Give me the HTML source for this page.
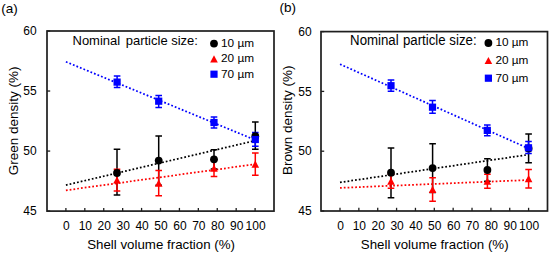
<!DOCTYPE html>
<html><head><meta charset="utf-8"><style>
html,body{margin:0;padding:0;background:#fff;}
svg{display:block;}
text{font-family:"Liberation Sans", sans-serif;fill:#000;}
</style></head><body>
<svg width="550" height="254" viewBox="0 0 550 254">
<rect width="550" height="254" fill="#fff"/>
<line x1="65.9" y1="61.8" x2="255.3" y2="140.0" stroke="#00f" stroke-width="1.75" stroke-dasharray="1.75 2.05"/>
<line x1="65.9" y1="185.1" x2="255.3" y2="140.6" stroke="#000" stroke-width="1.75" stroke-dasharray="1.75 2.05"/>
<line x1="65.9" y1="190.3" x2="255.3" y2="164.2" stroke="#f00" stroke-width="1.75" stroke-dasharray="1.75 2.05"/>
<line x1="65.90" y1="211.1" x2="65.90" y2="207.9" stroke="#1e1e1e" stroke-width="1.3"/>
<text x="66.40" y="230.1" text-anchor="middle" font-size="12">0</text>
<line x1="84.82" y1="211.1" x2="84.82" y2="207.9" stroke="#1e1e1e" stroke-width="1.3"/>
<text x="85.32" y="230.1" text-anchor="middle" font-size="12">10</text>
<line x1="103.74" y1="211.1" x2="103.74" y2="207.9" stroke="#1e1e1e" stroke-width="1.3"/>
<text x="104.24" y="230.1" text-anchor="middle" font-size="12">20</text>
<line x1="122.66" y1="211.1" x2="122.66" y2="207.9" stroke="#1e1e1e" stroke-width="1.3"/>
<text x="123.16" y="230.1" text-anchor="middle" font-size="12">30</text>
<line x1="141.58" y1="211.1" x2="141.58" y2="207.9" stroke="#1e1e1e" stroke-width="1.3"/>
<text x="142.08" y="230.1" text-anchor="middle" font-size="12">40</text>
<line x1="160.50" y1="211.1" x2="160.50" y2="207.9" stroke="#1e1e1e" stroke-width="1.3"/>
<text x="161.00" y="230.1" text-anchor="middle" font-size="12">50</text>
<line x1="179.42" y1="211.1" x2="179.42" y2="207.9" stroke="#1e1e1e" stroke-width="1.3"/>
<text x="179.92" y="230.1" text-anchor="middle" font-size="12">60</text>
<line x1="198.34" y1="211.1" x2="198.34" y2="207.9" stroke="#1e1e1e" stroke-width="1.3"/>
<text x="198.84" y="230.1" text-anchor="middle" font-size="12">70</text>
<line x1="217.26" y1="211.1" x2="217.26" y2="207.9" stroke="#1e1e1e" stroke-width="1.3"/>
<text x="217.76" y="230.1" text-anchor="middle" font-size="12">80</text>
<line x1="236.18" y1="211.1" x2="236.18" y2="207.9" stroke="#1e1e1e" stroke-width="1.3"/>
<text x="236.68" y="230.1" text-anchor="middle" font-size="12">90</text>
<line x1="255.10" y1="211.1" x2="255.10" y2="207.9" stroke="#1e1e1e" stroke-width="1.3"/>
<text x="255.60" y="230.1" text-anchor="middle" font-size="12">100</text>
<line x1="47" y1="31.00" x2="50.2" y2="31.00" stroke="#1e1e1e" stroke-width="1.3"/>
<text x="36.6" y="35.10" text-anchor="end" font-size="12">60</text>
<line x1="47" y1="91.03" x2="50.2" y2="91.03" stroke="#1e1e1e" stroke-width="1.3"/>
<text x="36.6" y="95.13" text-anchor="end" font-size="12">55</text>
<line x1="47" y1="151.07" x2="50.2" y2="151.07" stroke="#1e1e1e" stroke-width="1.3"/>
<text x="36.6" y="155.17" text-anchor="end" font-size="12">50</text>
<line x1="47" y1="211.10" x2="50.2" y2="211.10" stroke="#1e1e1e" stroke-width="1.3"/>
<text x="36.6" y="215.20" text-anchor="end" font-size="12">45</text>
<rect x="47" y="31.0" width="227" height="180.1" fill="none" stroke="#1e1e1e" stroke-width="1.7"/>
<path d="M117 149.3V195.1M113.7 149.3H120.3M113.7 195.1H120.3" stroke="#000" stroke-width="1.5" fill="none"/>
<path d="M158.7 136V185.2M155.39999999999998 136H162.0M155.39999999999998 185.2H162.0" stroke="#000" stroke-width="1.5" fill="none"/>
<path d="M214 149.7V169M210.7 149.7H217.3M210.7 169H217.3" stroke="#000" stroke-width="1.5" fill="none"/>
<path d="M255.3 122.1V149.3M252.0 122.1H258.6M252.0 149.3H258.6" stroke="#000" stroke-width="1.5" fill="none"/>
<path d="M117 169.2V191.1M113.7 169.2H120.3M113.7 191.1H120.3" stroke="#f00" stroke-width="1.5" fill="none"/>
<path d="M158.7 170.4V195.8M155.39999999999998 170.4H162.0M155.39999999999998 195.8H162.0" stroke="#f00" stroke-width="1.5" fill="none"/>
<path d="M214 160.1V176.5M210.7 160.1H217.3M210.7 176.5H217.3" stroke="#f00" stroke-width="1.5" fill="none"/>
<path d="M255.3 153V175.3M252.0 153H258.6M252.0 175.3H258.6" stroke="#f00" stroke-width="1.5" fill="none"/>
<path d="M117.1 76V87.5M113.8 76H120.39999999999999M113.8 87.5H120.39999999999999" stroke="#00f" stroke-width="1.5" fill="none"/>
<path d="M158.7 95.5V107.6M155.39999999999998 95.5H162.0M155.39999999999998 107.6H162.0" stroke="#00f" stroke-width="1.5" fill="none"/>
<path d="M214 117V128M210.7 117H217.3M210.7 128H217.3" stroke="#00f" stroke-width="1.5" fill="none"/>
<path d="M255.3 132.6V146.2M252.0 132.6H258.6M252.0 146.2H258.6" stroke="#00f" stroke-width="1.5" fill="none"/>
<circle cx="117" cy="173" r="3.9" fill="#000"/>
<circle cx="158.7" cy="160.6" r="3.9" fill="#000"/>
<circle cx="214" cy="159.3" r="3.9" fill="#000"/>
<circle cx="255.3" cy="136.2" r="3.9" fill="#000"/>
<polygon points="117,176.4 120.8,183.6 113.2,183.6" fill="#f00"/>
<polygon points="158.7,179.5 162.5,186.7 154.89999999999998,186.7" fill="#f00"/>
<polygon points="214,164.60000000000002 217.8,171.8 210.2,171.8" fill="#f00"/>
<polygon points="255.3,160.60000000000002 259.1,167.8 251.5,167.8" fill="#f00"/>
<rect x="113.5" y="78.5" width="7.2" height="7.2" fill="#00f"/>
<rect x="155.1" y="97.60000000000001" width="7.2" height="7.2" fill="#00f"/>
<rect x="210.4" y="118.9" width="7.2" height="7.2" fill="#00f"/>
<rect x="251.70000000000002" y="135.9" width="7.2" height="7.2" fill="#00f"/>
<text x="0" y="0" transform="translate(72.5,44.5) scale(1,1.05)" font-size="13">Nominal<tspan dx="2.0"> particle size:</tspan></text>
<circle cx="214" cy="43.6" r="3.9" fill="#000"/>
<text x="221" y="47.0" font-size="11.8">10 µm</text>
<polygon points="214,55.2 217.8,62.400000000000006 210.2,62.400000000000006" fill="#f00"/>
<text x="221" y="62.300000000000004" font-size="11.8">20 µm</text>
<rect x="210.4" y="70.60000000000001" width="7.2" height="7.2" fill="#00f"/>
<text x="221" y="77.60000000000001" font-size="11.8">70 µm</text>
<text x="0" y="0" transform="translate(161.1,248.6)" text-anchor="middle" font-size="13.3">Shell volume fraction (%)</text>
<text x="0" y="0" transform="translate(17.5,120.8) rotate(-90)" text-anchor="middle" font-size="13.5">Green density (%)</text>
<text x="1.3" y="12.8" font-size="13.5">(a)</text>
<line x1="340" y1="64.2" x2="528.6" y2="148.5" stroke="#00f" stroke-width="1.75" stroke-dasharray="1.75 2.05"/>
<line x1="340" y1="182.4" x2="528.6" y2="154.6" stroke="#000" stroke-width="1.75" stroke-dasharray="1.75 2.05"/>
<line x1="340" y1="187.9" x2="528.6" y2="180" stroke="#f00" stroke-width="1.75" stroke-dasharray="1.75 2.05"/>
<line x1="340.00" y1="211.0" x2="340.00" y2="207.8" stroke="#1e1e1e" stroke-width="1.3"/>
<text x="340.50" y="230.1" text-anchor="middle" font-size="12">0</text>
<line x1="358.86" y1="211.0" x2="358.86" y2="207.8" stroke="#1e1e1e" stroke-width="1.3"/>
<text x="359.36" y="230.1" text-anchor="middle" font-size="12">10</text>
<line x1="377.72" y1="211.0" x2="377.72" y2="207.8" stroke="#1e1e1e" stroke-width="1.3"/>
<text x="378.22" y="230.1" text-anchor="middle" font-size="12">20</text>
<line x1="396.58" y1="211.0" x2="396.58" y2="207.8" stroke="#1e1e1e" stroke-width="1.3"/>
<text x="397.08" y="230.1" text-anchor="middle" font-size="12">30</text>
<line x1="415.44" y1="211.0" x2="415.44" y2="207.8" stroke="#1e1e1e" stroke-width="1.3"/>
<text x="415.94" y="230.1" text-anchor="middle" font-size="12">40</text>
<line x1="434.30" y1="211.0" x2="434.30" y2="207.8" stroke="#1e1e1e" stroke-width="1.3"/>
<text x="434.80" y="230.1" text-anchor="middle" font-size="12">50</text>
<line x1="453.16" y1="211.0" x2="453.16" y2="207.8" stroke="#1e1e1e" stroke-width="1.3"/>
<text x="453.66" y="230.1" text-anchor="middle" font-size="12">60</text>
<line x1="472.02" y1="211.0" x2="472.02" y2="207.8" stroke="#1e1e1e" stroke-width="1.3"/>
<text x="472.52" y="230.1" text-anchor="middle" font-size="12">70</text>
<line x1="490.88" y1="211.0" x2="490.88" y2="207.8" stroke="#1e1e1e" stroke-width="1.3"/>
<text x="491.38" y="230.1" text-anchor="middle" font-size="12">80</text>
<line x1="509.74" y1="211.0" x2="509.74" y2="207.8" stroke="#1e1e1e" stroke-width="1.3"/>
<text x="510.24" y="230.1" text-anchor="middle" font-size="12">90</text>
<line x1="528.60" y1="211.0" x2="528.60" y2="207.8" stroke="#1e1e1e" stroke-width="1.3"/>
<text x="529.10" y="230.1" text-anchor="middle" font-size="12">100</text>
<line x1="321" y1="31.60" x2="324.2" y2="31.60" stroke="#1e1e1e" stroke-width="1.3"/>
<text x="311.6" y="35.70" text-anchor="end" font-size="12">60</text>
<line x1="321" y1="91.40" x2="324.2" y2="91.40" stroke="#1e1e1e" stroke-width="1.3"/>
<text x="311.6" y="95.50" text-anchor="end" font-size="12">55</text>
<line x1="321" y1="151.20" x2="324.2" y2="151.20" stroke="#1e1e1e" stroke-width="1.3"/>
<text x="311.6" y="155.30" text-anchor="end" font-size="12">50</text>
<line x1="321" y1="211.00" x2="324.2" y2="211.00" stroke="#1e1e1e" stroke-width="1.3"/>
<text x="311.6" y="215.10" text-anchor="end" font-size="12">45</text>
<rect x="321" y="31.6" width="226.5" height="179.4" fill="none" stroke="#1e1e1e" stroke-width="1.7"/>
<path d="M391 148.1V197.7M387.7 148.1H394.3M387.7 197.7H394.3" stroke="#000" stroke-width="1.5" fill="none"/>
<path d="M432.6 143.7V192.5M429.3 143.7H435.90000000000003M429.3 192.5H435.90000000000003" stroke="#000" stroke-width="1.5" fill="none"/>
<path d="M487.4 158.7V181.3M484.09999999999997 158.7H490.7M484.09999999999997 181.3H490.7" stroke="#000" stroke-width="1.5" fill="none"/>
<path d="M528.6 134V162.8M525.3000000000001 134H531.9M525.3000000000001 162.8H531.9" stroke="#000" stroke-width="1.5" fill="none"/>
<path d="M391 174.2V188.2M387.7 174.2H394.3M387.7 188.2H394.3" stroke="#f00" stroke-width="1.5" fill="none"/>
<path d="M432.6 177.8V201.2M429.3 177.8H435.90000000000003M429.3 201.2H435.90000000000003" stroke="#f00" stroke-width="1.5" fill="none"/>
<path d="M487.4 174.3V188.3M484.09999999999997 174.3H490.7M484.09999999999997 188.3H490.7" stroke="#f00" stroke-width="1.5" fill="none"/>
<path d="M528.6 169.4V187.9M525.3000000000001 169.4H531.9M525.3000000000001 187.9H531.9" stroke="#f00" stroke-width="1.5" fill="none"/>
<path d="M391 79.9V91.3M387.7 79.9H394.3M387.7 91.3H394.3" stroke="#00f" stroke-width="1.5" fill="none"/>
<path d="M432.5 100.5V113.2M429.2 100.5H435.8M429.2 113.2H435.8" stroke="#00f" stroke-width="1.5" fill="none"/>
<path d="M487.3 124.9V135.7M484.0 124.9H490.6M484.0 135.7H490.6" stroke="#00f" stroke-width="1.5" fill="none"/>
<path d="M528.5 141.6V153.6M525.2 141.6H531.8M525.2 153.6H531.8" stroke="#00f" stroke-width="1.5" fill="none"/>
<circle cx="391" cy="172.7" r="3.9" fill="#000"/>
<circle cx="432.6" cy="168.1" r="3.9" fill="#000"/>
<circle cx="487.4" cy="170" r="3.9" fill="#000"/>
<circle cx="528.6" cy="148.4" r="3.9" fill="#000"/>
<polygon points="391,177.5 394.8,184.7 387.2,184.7" fill="#f00"/>
<polygon points="432.6,185.8 436.40000000000003,193.0 428.8,193.0" fill="#f00"/>
<polygon points="487.4,177.60000000000002 491.2,184.8 483.59999999999997,184.8" fill="#f00"/>
<polygon points="528.6,175.0 532.4,182.2 524.8000000000001,182.2" fill="#f00"/>
<rect x="387.4" y="82.10000000000001" width="7.2" height="7.2" fill="#00f"/>
<rect x="428.9" y="103.60000000000001" width="7.2" height="7.2" fill="#00f"/>
<rect x="483.7" y="126.80000000000001" width="7.2" height="7.2" fill="#00f"/>
<rect x="524.9" y="144.20000000000002" width="7.2" height="7.2" fill="#00f"/>
<text x="0" y="0" transform="translate(350.1,44.5) scale(1,1.05)" font-size="13.25">Nominal<tspan dx="0.6"> particle size:</tspan></text>
<circle cx="488.4" cy="43.0" r="3.9" fill="#000"/>
<text x="495.4" y="46.4" font-size="11.8">10 µm</text>
<polygon points="488.4,56.9 492.2,64.1 484.59999999999997,64.1" fill="#f00"/>
<text x="495.4" y="64.0" font-size="11.8">20 µm</text>
<rect x="484.79999999999995" y="74.60000000000001" width="7.2" height="7.2" fill="#00f"/>
<text x="495.4" y="81.60000000000001" font-size="11.8">70 µm</text>
<text x="0" y="0" transform="translate(434.7,248.6)" text-anchor="middle" font-size="13.3">Shell volume fraction (%)</text>
<text x="0" y="0" transform="translate(291.7,120.2) rotate(-90)" text-anchor="middle" font-size="13.5">Brown density (%)</text>
<text x="279.5" y="12.2" font-size="13.5">(b)</text>
</svg>
</body></html>
